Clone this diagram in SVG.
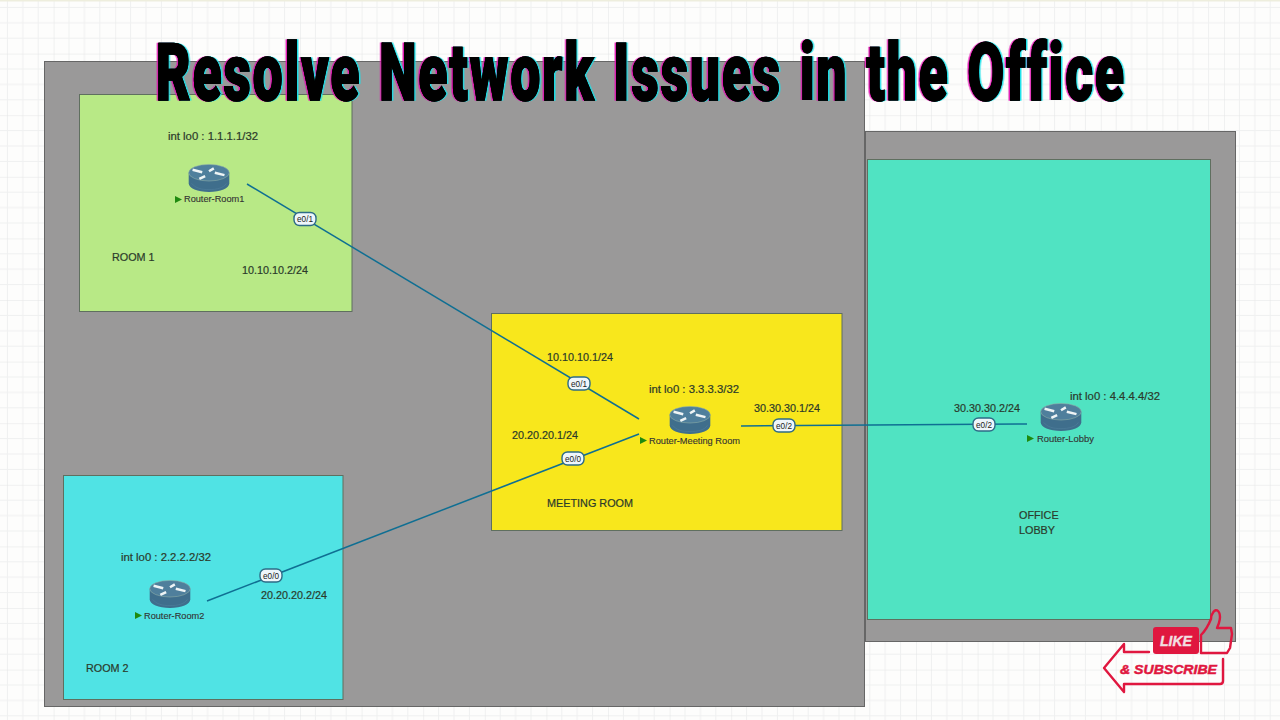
<svg xmlns="http://www.w3.org/2000/svg" width="1280" height="720" viewBox="0 0 1280 720">
<style>
.room{stroke:#5f6f5f;stroke-width:1}
.lb{font-family:"Liberation Sans",Arial,sans-serif;font-size:10.800px;fill:#2b3a2b;stroke:#2b3a2b;stroke-width:.2}
.nm{font-family:"Liberation Sans",Arial,sans-serif;font-size:9.200px;fill:#333;stroke:#333;stroke-width:.12}
.lnk{stroke:#0f6f93;stroke-width:1.500;fill:none}
.pill{fill:#eef6fb;stroke:#2d6b86;stroke-width:1.400}
.pt{font-family:"Liberation Sans",Arial,sans-serif;font-size:8.200px;fill:#222;text-anchor:middle}
.tt{font-family:Roboto,"Liberation Sans",Arial,sans-serif;font-weight:900;font-size:80px;letter-spacing:3px;word-spacing:4px}
.red{fill:none;stroke:#e0173f;stroke-width:2.400;stroke-linejoin:round;stroke-linecap:round}
</style>
<defs>
<filter id="fringe" x="-2%" y="-10%" width="104%" height="120%" color-interpolation-filters="sRGB">
<feDropShadow dx="-1.500" dy="0" stdDeviation="0" flood-color="#e010b0" result="a"/>
<feDropShadow in="SourceGraphic" dx="1.500" dy="0" stdDeviation="0" flood-color="#19e0e8" result="b"/>
<feMerge><feMergeNode in="a"/><feMergeNode in="b"/><feMergeNode in="SourceGraphic"/></feMerge>
</filter>
<pattern id="grid" width="61.6" height="61.6" patternUnits="userSpaceOnUse" x="-8" y="-8">
<path d="M15.4 0V61.6M30.8 0V61.6M46.2 0V61.6M0 15.4H61.6M0 30.8H61.6M0 46.2H61.6" stroke="#eff0f0" stroke-width="1" fill="none"/>
<path d="M0 0V61.6M0 0H61.6" stroke="#e4e5e5" stroke-width="1" fill="none"/>
</pattern>
<symbol id="router" width="44" height="30" viewBox="0 0 44 30" overflow="visible">
<path d="M1 9V20C1 25 10 29 22 29S43 25 43 20V9Z" fill="#3f6e8c"/>
<ellipse cx="22" cy="9" rx="21" ry="8.6" fill="#4f7f9c" stroke="#8fb0a8" stroke-width=".6"/>
<path d="M4 20C8 25 14 26.500 22 26.500S37 25 40 20" fill="none" stroke="#4f7f9c" stroke-width=".6"/>
<path d="M5 6L15 8.500M18 12.500L12 15.500M27 4.500L22 7.500M28 9L38 11.500" stroke="#eef4f5" stroke-width="2.600" fill="none"/>
</symbol>
<path id="tri" d="M0 0L7 3.500L0 7Z" fill="#1f8a0f"/>
</defs>
<rect width="1280" height="720" fill="#fdfdfc"/>
<rect width="1280" height="720" fill="url(#grid)"/>
<rect x="0" y="0" width="1280" height="1.500" fill="#eeeedd"/>

<g id="area-main"><rect x="44.500" y="61.500" width="820" height="645" fill="#9a9999" stroke="#666" stroke-width="1"/></g>
<g id="area-lobby"><rect x="865.500" y="131.500" width="370" height="510" fill="#9a9999" stroke="#666" stroke-width="1"/></g>

<g id="room1"><rect class="room" x="79.500" y="94.500" width="272.500" height="217" fill="#b8e986"/>
<text class="lb" x="168" y="140" textLength="90" lengthAdjust="spacingAndGlyphs">int lo0 : 1.1.1.1/32</text>
<text class="lb" x="112" y="261">ROOM 1</text>
<text class="lb" x="242" y="274" textLength="66" lengthAdjust="spacingAndGlyphs">10.10.10.2/24</text></g>
<g id="room2"><rect class="room" x="63.500" y="475.500" width="279.500" height="224" fill="#50e3e4"/>
<text class="lb" x="121" y="561" textLength="90" lengthAdjust="spacingAndGlyphs">int lo0 : 2.2.2.2/32</text>
<text class="lb" x="261" y="599" textLength="66" lengthAdjust="spacingAndGlyphs">20.20.20.2/24</text>
<text class="lb" x="86" y="672">ROOM 2</text></g>
<g id="room-meeting"><rect class="room" x="491.500" y="313.500" width="350.500" height="217" fill="#f8e71c"/>
<text class="lb" x="547" y="361" textLength="66" lengthAdjust="spacingAndGlyphs">10.10.10.1/24</text>
<text class="lb" x="649" y="393" textLength="90" lengthAdjust="spacingAndGlyphs">int lo0 : 3.3.3.3/32</text>
<text class="lb" x="754" y="412" textLength="66" lengthAdjust="spacingAndGlyphs">30.30.30.1/24</text>
<text class="lb" x="512" y="439" textLength="66" lengthAdjust="spacingAndGlyphs">20.20.20.1/24</text>
<text class="lb" x="547" y="507" textLength="86" lengthAdjust="spacingAndGlyphs">MEETING ROOM</text></g>
<g id="room-lobby"><rect class="room" x="867.500" y="159.500" width="343" height="460" fill="#50e3c2"/>
<text class="lb" x="954" y="412" textLength="66" lengthAdjust="spacingAndGlyphs">30.30.30.2/24</text>
<text class="lb" x="1070" y="400" textLength="90" lengthAdjust="spacingAndGlyphs">int lo0 : 4.4.4.4/32</text>
<text class="lb" x="1019" y="519">OFFICE</text>
<text class="lb" x="1019" y="534">LOBBY</text></g>

<g id="connectors">
<path class="lnk" d="M247 184L639 419"/>
<path class="lnk" d="M207 601L639 434"/>
<path class="lnk" d="M741 426L1027 424"/>
</g>

<g id="router-room1"><use href="#router" x="187" y="164" width="44" height="29"/><use href="#tri" x="175" y="196"/><text class="nm" x="184" y="202">Router-Room1</text></g>
<g id="router-room2"><use href="#router" x="148" y="580" width="44" height="29"/><use href="#tri" x="135" y="612"/><text class="nm" x="144" y="619">Router-Room2</text></g>
<g id="router-meeting"><use href="#router" x="668" y="406" width="44" height="29"/><use href="#tri" x="640" y="437"/><text class="nm" x="649" y="444" textLength="91" lengthAdjust="spacingAndGlyphs">Router-Meeting Room</text></g>
<g id="router-lobby"><use href="#router" x="1039" y="403" width="44" height="29"/><use href="#tri" x="1027" y="435"/><text class="nm" x="1037" y="442" textLength="57" lengthAdjust="spacingAndGlyphs">Router-Lobby</text></g>

<g id="labels">
<rect class="pill" x="294" y="212.500" width="22" height="13" rx="5.500"/><text class="pt" x="305" y="222">e0/1</text>
<rect class="pill" x="568" y="377" width="22" height="13" rx="5.500"/><text class="pt" x="579" y="387">e0/1</text>
<rect class="pill" x="562" y="452" width="22" height="13" rx="5.500"/><text class="pt" x="573" y="462">e0/0</text>
<rect class="pill" x="260" y="569" width="22" height="13" rx="5.500"/><text class="pt" x="271" y="579">e0/0</text>
<rect class="pill" x="773" y="419" width="22" height="13" rx="5.500"/><text class="pt" x="784" y="429">e0/2</text>
<rect class="pill" x="973" y="418" width="22" height="13" rx="5.500"/><text class="pt" x="984" y="428">e0/2</text>
</g>

<g id="title">
<text class="tt" x="156" y="100" textLength="970" lengthAdjust="spacingAndGlyphs" fill="#000" stroke="#000" stroke-width="1.400" filter="url(#fringe)">Resolve Network Issues in the Office</text>
</g>

<g id="subscribe-badge">
<rect x="1153" y="627" width="46" height="27" rx="3" fill="#e0173f"/>
<text x="1176" y="646" text-anchor="middle" font-family="'Liberation Sans',Arial,sans-serif" font-weight="700" font-style="italic" font-size="14" fill="#f2dfe0" stroke="#f2dfe0" stroke-width=".4">LIKE</text>
<path class="red" d="M1201 653V635C1206 630 1209 624 1211 619C1211 614 1215 608 1218 611C1222 615 1219 624 1217 628H1231L1232 634L1231 641L1230 648L1227 653Z"/>
<path class="red" d="M1149 652H1124V644L1104 668L1124 692V684H1220Q1223 684 1223 681V659"/>
<text x="1120" y="674" font-family="'Liberation Sans',Arial,sans-serif" font-weight="700" font-style="italic" font-size="13.500" fill="#e0173f" stroke="#e0173f" stroke-width=".5" textLength="97" lengthAdjust="spacingAndGlyphs">&amp; SUBSCRIBE</text>
</g>
</svg>
